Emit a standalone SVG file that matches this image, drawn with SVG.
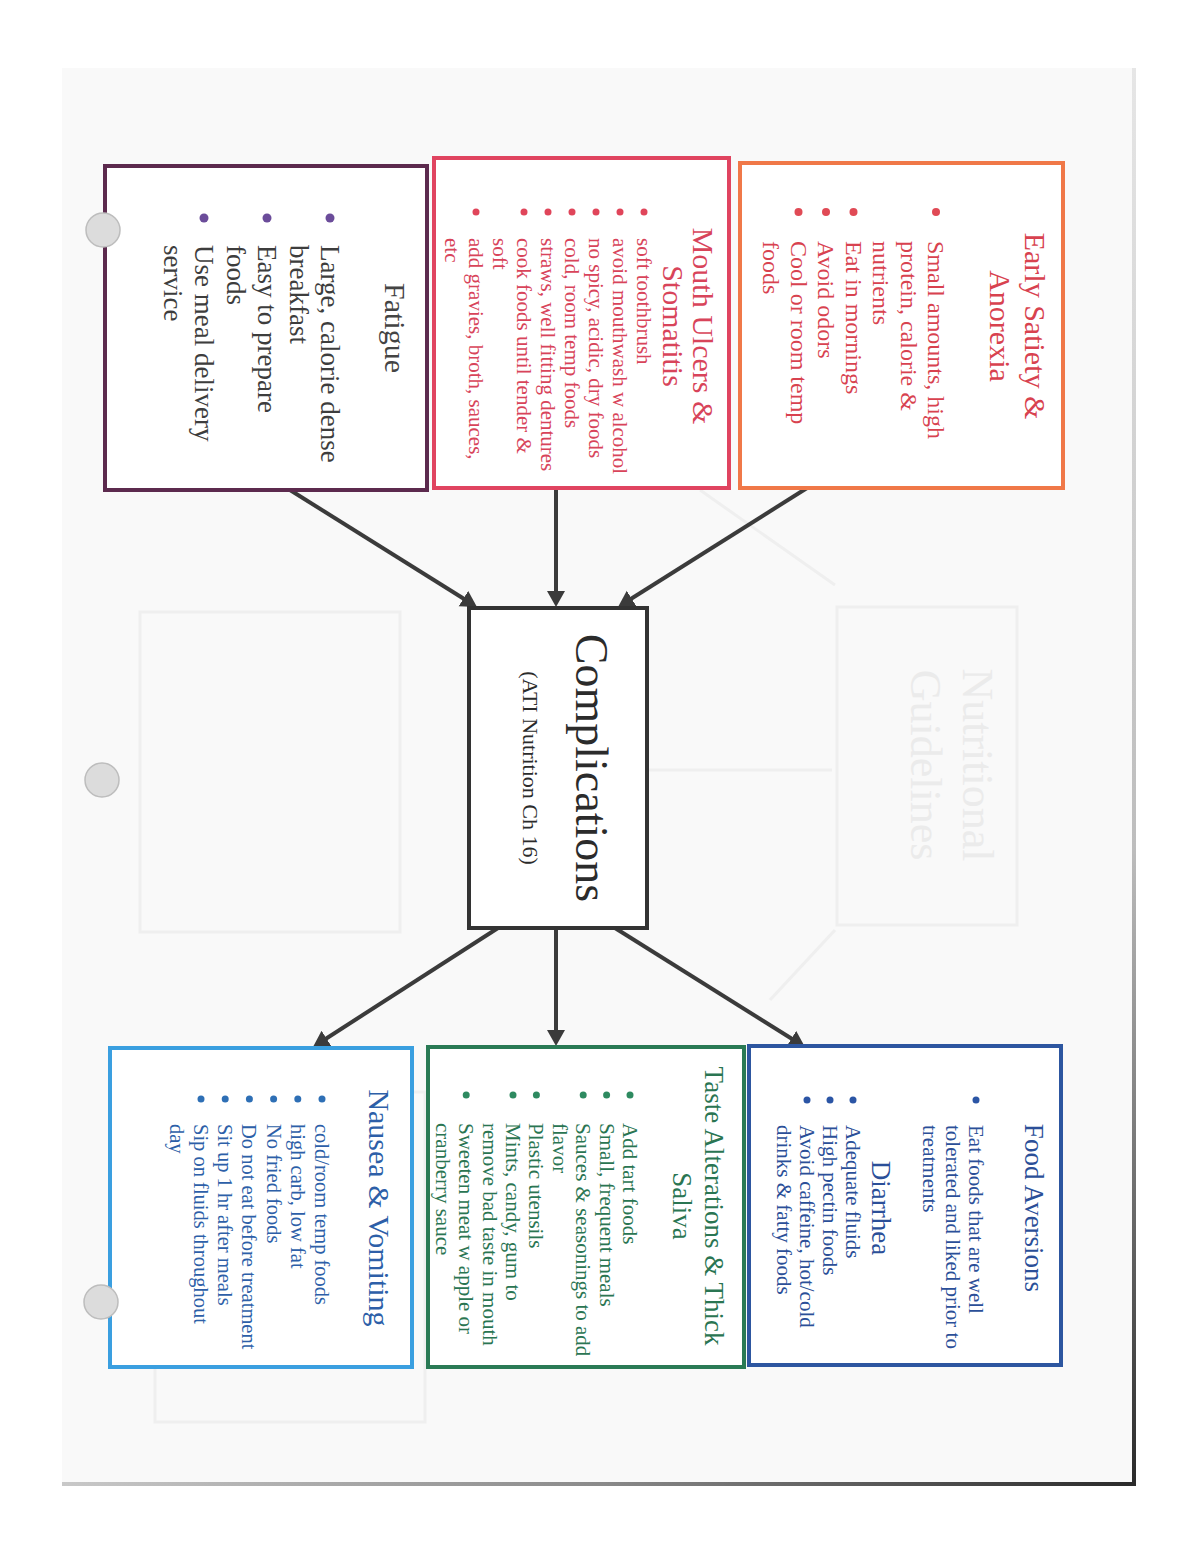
<svg xmlns="http://www.w3.org/2000/svg" width="1200" height="1553" viewBox="0 0 1200 1553">
<defs>
<style>
.box{fill:#ffffff;stroke-width:4}
.t{font-family:"Liberation Serif","Times New Roman",serif;text-anchor:middle}
.b{font-family:"Liberation Serif","Times New Roman",serif}
.ghost{fill:none;stroke:#efefef;stroke-width:3}
</style>
<linearGradient id="edgeR" x1="0" y1="0" x2="0" y2="1">
<stop offset="0" stop-color="#e6e6e6"/>
<stop offset="0.55" stop-color="#bdbdbd"/>
<stop offset="1" stop-color="#2a2a2a"/>
</linearGradient>
<linearGradient id="edgeB" x1="0" y1="0" x2="1" y2="0">
<stop offset="0" stop-color="#c8c8c8"/>
<stop offset="0.5" stop-color="#8a8a8a"/>
<stop offset="1" stop-color="#2a2a2a"/>
</linearGradient>
<marker id="arrow" markerUnits="userSpaceOnUse" markerWidth="18" markerHeight="20" refX="8" refY="9" orient="auto">
<path d="M0,0 L16,9 L0,18 Z" fill="#3b3b3b"/>
</marker>
</defs>

<!-- page -->
<rect x="0" y="0" width="1200" height="1553" fill="#ffffff"/>
<rect x="62" y="68" width="1073" height="1417" fill="#f9f9f9"/>
<rect x="1132" y="68" width="4" height="1418" fill="url(#edgeR)"/>
<rect x="62" y="1482" width="1074" height="4" fill="url(#edgeB)"/>

<!-- faint show-through from the page beneath -->
<g id="ghost">
<rect class="ghost" x="837" y="607" width="180" height="318"/>
<rect class="ghost" x="140" y="612" width="260" height="320" stroke="#f8eeee"/>
<rect class="ghost" x="155" y="1092" width="270" height="330" stroke="#f3f3f3"/>
<line class="ghost" x1="700" y1="490" x2="835" y2="585"/>
<line class="ghost" x1="835" y1="930" x2="770" y2="1000"/>
<line class="ghost" x1="648" y1="770" x2="832" y2="770"/>
<g transform="translate(963,765) rotate(90)">
<text class="t" x="0" y="0" font-size="44" fill="#ebebeb" font-family="Liberation Sans, Arial, sans-serif">Nutritional</text>
<text class="t" x="0" y="52" font-size="44" fill="#ebebeb" font-family="Liberation Sans, Arial, sans-serif">Guidelines</text>
</g>
</g>

<!-- connectors -->
<g id="connectors" stroke="#3b3b3b" stroke-width="4" fill="none" marker-end="url(#arrow)">
<line x1="807" y1="488" x2="624.8" y2="602.7"/>
<line x1="556" y1="488" x2="556" y2="599"/>
<line x1="290" y1="490" x2="470.2" y2="602.8"/>
<line x1="615" y1="928" x2="798.2" y2="1042.8"/>
<line x1="556" y1="928" x2="556" y2="1038"/>
<line x1="498" y1="928" x2="319.7" y2="1042.7"/>
</g>

<!-- Early Satiety & Anorexia -->
<g id="early-satiety" transform="translate(1063,163) rotate(90)">
<rect class="box" x="0" y="0" width="325" height="323" stroke="#f07848"/>
<g fill="#d8424f">
<text class="t" x="163" y="38" font-size="30">Early Satiety &amp;</text>
<text class="t" x="163" y="73" font-size="30">Anorexia</text>
<g class="b" font-size="24">
<text x="78" y="135">Small amounts, high</text>
<text x="78" y="162.5">protein, calorie &amp;</text>
<text x="78" y="190">nutrients</text>
<text x="78" y="217.5">Eat in mornings</text>
<text x="78" y="245">Avoid odors</text>
<text x="78" y="272.5">Cool or room temp</text>
<text x="78" y="300">foods</text>
</g>
<g fill="#e04a55">
<circle cx="49" cy="127" r="4"/>
<circle cx="49" cy="209.5" r="4"/>
<circle cx="49" cy="237" r="4"/>
<circle cx="49" cy="264.5" r="4"/>
</g>
</g>
</g>

<!-- Mouth Ulcers & Stomatitis -->
<g id="mouth-ulcers" transform="translate(729,158) rotate(90)">
<rect class="box" x="0" y="0" width="330" height="295" stroke="#e04460"/>
<g fill="#d8445a">
<text class="t" x="168" y="36" font-size="30">Mouth Ulcers &amp;</text>
<text class="t" x="168" y="66" font-size="30">Stomatitis</text>
<g class="b" font-size="21">
<text x="80" y="92">soft toothbrush</text>
<text x="80" y="116">avoid mouthwash w alcohol</text>
<text x="80" y="140">no spicy, acidic, dry foods</text>
<text x="80" y="164">cold, room temp foods</text>
<text x="80" y="188">straws, well fitting dentures</text>
<text x="80" y="212">cook foods until tender &amp;</text>
<text x="80" y="236">soft</text>
<text x="80" y="260">add gravies, broth, sauces,</text>
<text x="80" y="284">etc</text>
</g>
<g fill="#e0455a">
<circle cx="54" cy="85" r="3.5"/>
<circle cx="54" cy="109" r="3.5"/>
<circle cx="54" cy="133" r="3.5"/>
<circle cx="54" cy="157" r="3.5"/>
<circle cx="54" cy="181" r="3.5"/>
<circle cx="54" cy="205" r="3.5"/>
<circle cx="54" cy="253" r="3.5"/>
</g>
</g>
</g>

<!-- Fatigue -->
<g id="fatigue" transform="translate(427,166) rotate(90)">
<rect class="box" x="0" y="0" width="324" height="322" stroke="#5c2a4e"/>
<text class="t" x="162" y="42" font-size="30" fill="#444444">Fatigue</text>
<g class="b" font-size="27" fill="#3d3d3d">
<text x="79" y="106">Large, calorie dense</text>
<text x="79" y="137.5">breakfast</text>
<text x="79" y="169">Easy to prepare</text>
<text x="79" y="200.5">foods</text>
<text x="79" y="232">Use meal delivery</text>
<text x="79" y="263.5">service</text>
</g>
<g fill="#6b4c9a">
<circle cx="52" cy="97" r="4.5"/>
<circle cx="52" cy="160" r="4.5"/>
<circle cx="52" cy="223" r="4.5"/>
</g>
</g>

<!-- Complications -->
<g id="complications" transform="translate(647,608) rotate(90)">
<rect class="box" x="0" y="0" width="320" height="178" stroke="#333333" stroke-width="5"/>
<text class="t" x="160" y="71" font-size="46" fill="#2b2b2b">Complications</text>
<text class="t" x="160" y="124" font-size="22" fill="#2b2b2b">(ATI Nutrition Ch 16)</text>
</g>

<!-- Food Aversions / Diarrhea -->
<g id="food-aversions" transform="translate(1061,1046) rotate(90)">
<rect class="box" x="0" y="0" width="319" height="312" stroke="#2d56a0"/>
<g fill="#2b4f98">
<text class="t" x="162" y="36" font-size="27">Food Aversions</text>
<g class="b" font-size="21">
<text x="79" y="92">Eat foods that are well</text>
<text x="79" y="115">tolerated and liked prior to</text>
<text x="79" y="138">treatments</text>
</g>
<text class="t" x="162" y="189" font-size="27">Diarrhea</text>
<g class="b" font-size="21">
<text x="79" y="215">Adequate fluids</text>
<text x="79" y="238">High pectin foods</text>
<text x="79" y="261">Avoid caffeine, hot/cold</text>
<text x="79" y="284">drinks &amp; fatty foods</text>
</g>
<g fill="#2b55a5">
<circle cx="54" cy="85" r="3.5"/>
<circle cx="54" cy="208" r="3.5"/>
<circle cx="54" cy="231" r="3.5"/>
<circle cx="54" cy="254" r="3.5"/>
</g>
</g>
</g>

<!-- Taste Alterations & Thick Saliva -->
<g id="taste-alterations" transform="translate(744,1047) rotate(90)">
<rect class="box" x="0" y="0" width="320" height="316" stroke="#2a7a55"/>
<g fill="#2a7552">
<text class="t" x="159" y="39" font-size="27">Taste Alterations &amp; Thick</text>
<text class="t" x="159" y="71" font-size="27">Saliva</text>
<g class="b" font-size="21">
<text x="76" y="121">Add tart foods</text>
<text x="76" y="144.4">Small, frequent meals</text>
<text x="76" y="167.8">Sauces &amp; seasonings to add</text>
<text x="76" y="191.2">flavor</text>
<text x="76" y="214.6">Plastic utensils</text>
<text x="76" y="238">Mints, candy, gum to</text>
<text x="76" y="261.4">remove bad taste in mouth</text>
<text x="76" y="284.8">Sweeten meat w apple or</text>
<text x="76" y="308.2">cranberry sauce</text>
</g>
<g fill="#2e8a60">
<circle cx="48" cy="114" r="3.5"/>
<circle cx="48" cy="137.4" r="3.5"/>
<circle cx="48" cy="160.8" r="3.5"/>
<circle cx="48" cy="207.6" r="3.5"/>
<circle cx="48" cy="231" r="3.5"/>
<circle cx="48" cy="277.8" r="3.5"/>
</g>
</g>
</g>

<!-- Nausea & Vomiting -->
<g id="nausea-vomiting" transform="translate(412,1048) rotate(90)">
<rect class="box" x="0" y="0" width="319" height="302" stroke="#3a9fe0"/>
<g fill="#2d5fa8">
<text class="t" x="160" y="43" font-size="30">Nausea &amp; Vomiting</text>
<g class="b" font-size="20.5">
<text x="76" y="97">cold/room temp foods</text>
<text x="76" y="121.2">high carb, low fat</text>
<text x="76" y="145.4">No fried foods</text>
<text x="76" y="169.6">Do not eat before treatment</text>
<text x="76" y="193.8">Sit up 1 hr after meals</text>
<text x="76" y="218">Sip on fluids throughout</text>
<text x="76" y="242.2">day</text>
</g>
<g fill="#2e6fb5">
<circle cx="51" cy="90" r="3.5"/>
<circle cx="51" cy="114.2" r="3.5"/>
<circle cx="51" cy="138.4" r="3.5"/>
<circle cx="51" cy="162.6" r="3.5"/>
<circle cx="51" cy="186.8" r="3.5"/>
<circle cx="51" cy="211" r="3.5"/>
</g>
</g>
</g>

<!-- hole punches (on top of the page) -->
<g id="holes" fill="#dcdcdc" stroke="#bdbdbd" stroke-width="1.5">
<circle cx="103" cy="230" r="17"/>
<circle cx="102" cy="780" r="17"/>
<circle cx="101" cy="1302" r="17"/>
</g>
</svg>
